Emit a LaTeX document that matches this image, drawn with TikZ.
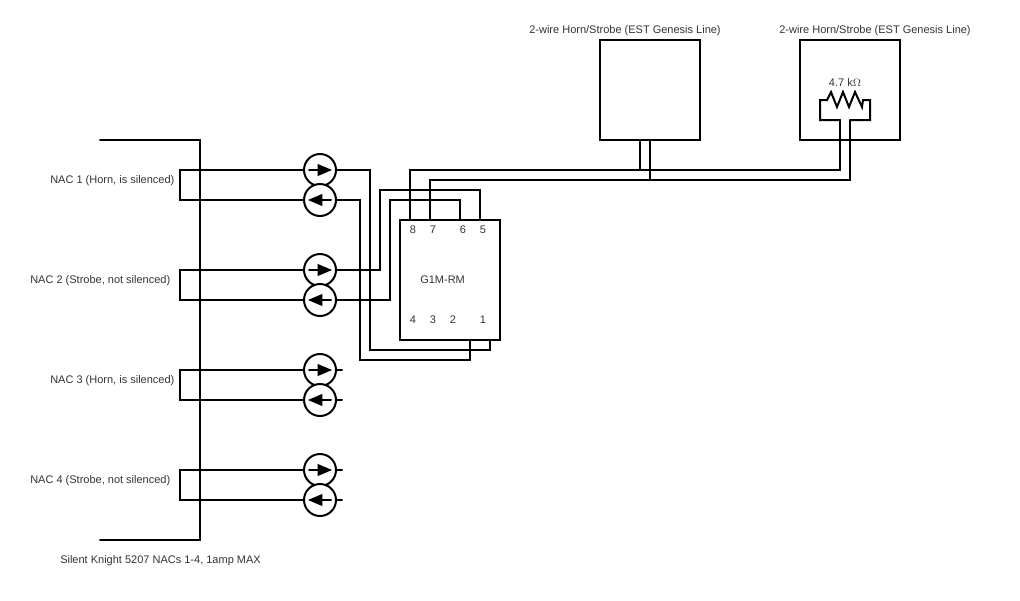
\documentclass[tikz,border=0pt]{standalone}
\usepackage{fontspec}
\setmainfont{Liberation Sans}
\usetikzlibrary{arrows}

\tikzset{
	wire/.style={line width=1.5pt,line cap=round,line join=miter,color=black},
	box/.style={draw,line width=1.5pt,minimum width=#1*0.75pt,minimum height=#1*0.75pt,inner sep=0pt},
	source/.style={draw,circle,line width=1.5pt,fill=white,minimum size=24pt,inner sep=0pt},
	txt/.style={text=black!80,font=\fontsize{8.25pt}{10pt}\selectfont,inner sep=0pt}
}

\begin{document}
\begin{tikzpicture}[line cap=round,line join=miter,>=triangle 45,x=0.75pt,y=-0.75pt]
	\useasboundingbox (0,0) rectangle (1020,600);
	% panel bus
	\coordinate (busa) at (100,140);
	\coordinate (busb) at (100,540);
	\draw[wire] (busa) -- (200,140) -- (200,540) -- (busb);
	% output loops
	\foreach \n/\y/\lab/\lx in {1/170/{NAC 1 (Horn, is silenced)}/50,2/270/{NAC 2 (Strobe, not silenced)}/30,3/370/{NAC 3 (Horn, is silenced)}/50,4/470/{NAC 4 (Strobe, not silenced)}/30}
	{
		\node[source] (src\n a) at (320,\y) {};
		\node[source] (src\n b) at (320,\y+30) {};
		\draw[wire] (src\n a.west) -- (180,\y) -- (180,\y+30) -- (src\n b.west);
		\draw[wire,->] (309,\y) -- (332,\y);
		\draw[wire,->] (331,\y+30) -- (308,\y+30);
		\node[txt,anchor=west] (lab\n) at (\lx,\y+11) {\lab};
	}
	\draw[wire] (src3a.east) -- ++(5,0);
	\draw[wire] (src3b.east) -- ++(5,0);
	\draw[wire] (src4a.east) -- ++(5,0);
	\draw[wire] (src4b.east) -- ++(5,0);
	\node[txt,anchor=west] (panel) at (60,561) {Silent Knight 5207 NACs 1-4, 1amp MAX};
	% relay module
	\node[draw,line width=1.5pt,minimum width=75pt,minimum height=90pt,inner sep=0pt] (relay) at (450,280) {};
	\node[txt,anchor=west] (relaylab) at (420,280) {G1M-RM};
	\foreach \p/\x/\y in {8/413/230,7/433/230,6/463/230,5/483/230,4/413/320,3/433/320,2/453/320,1/483/320}
	\node[txt] (num\p) at (\x,\y) {\p};
	\foreach \p/\x/\y in {8/410/220,7/430/220,6/460/220,5/480/220,2/470/340,1/490/340}
	\coordinate (pin\p) at (\x,\y);
	% devices
	\node[box=100] (horna) at (650,90) {};
	\node[box=100] (hornb) at (850,90) {};
	\node[txt] (hornalab) at (625,31) {2-wire Horn/Strobe (EST Genesis Line)};
	\node[txt] (hornblab) at (875,31) {2-wire Horn/Strobe (EST Genesis Line)};
	\node[txt] (reslab) at (845,83) {4.7 k$\Omega$};
	\coordinate (resa) at (840,120);
	\coordinate (resb) at (850,120);
	\coordinate (tapa) at (640,140);
	\coordinate (tapb) at (650,140);
	% wiring
	\draw[wire] (src1a.east) -- (370,170) -- (370,350) -- (490,350) -- (pin1);
	\draw[wire] (src1b.east) -- (360,200) -- (360,360) -- (470,360) -- (pin2);
	\draw[wire] (src2a.east) -- (380,270) -- (380,190) -- (480,190) -- (pin5);
	\draw[wire] (src2b.east) -- (390,300) -- (390,200) -- (460,200) -- (pin6);
	\draw[wire] (pin8) -- (410,170) -- (840,170) -- (resa);
	\draw[wire] (pin7) -- (430,180) -- (850,180) -- (resb);
	\draw[wire] (tapa) -- (640,170);
	\draw[wire] (tapb) -- (650,180);
	% end of line resistor
	\draw[wire] (resa) -- (820,120) -- (820,100) -- (827,100) -- (831,92) -- (837,107) -- (843,92) -- (849,107) -- (855,92) -- (862,107) -- (863,100) -- (870,100) -- (870,120) -- (resb);
\end{tikzpicture}
\end{document}
